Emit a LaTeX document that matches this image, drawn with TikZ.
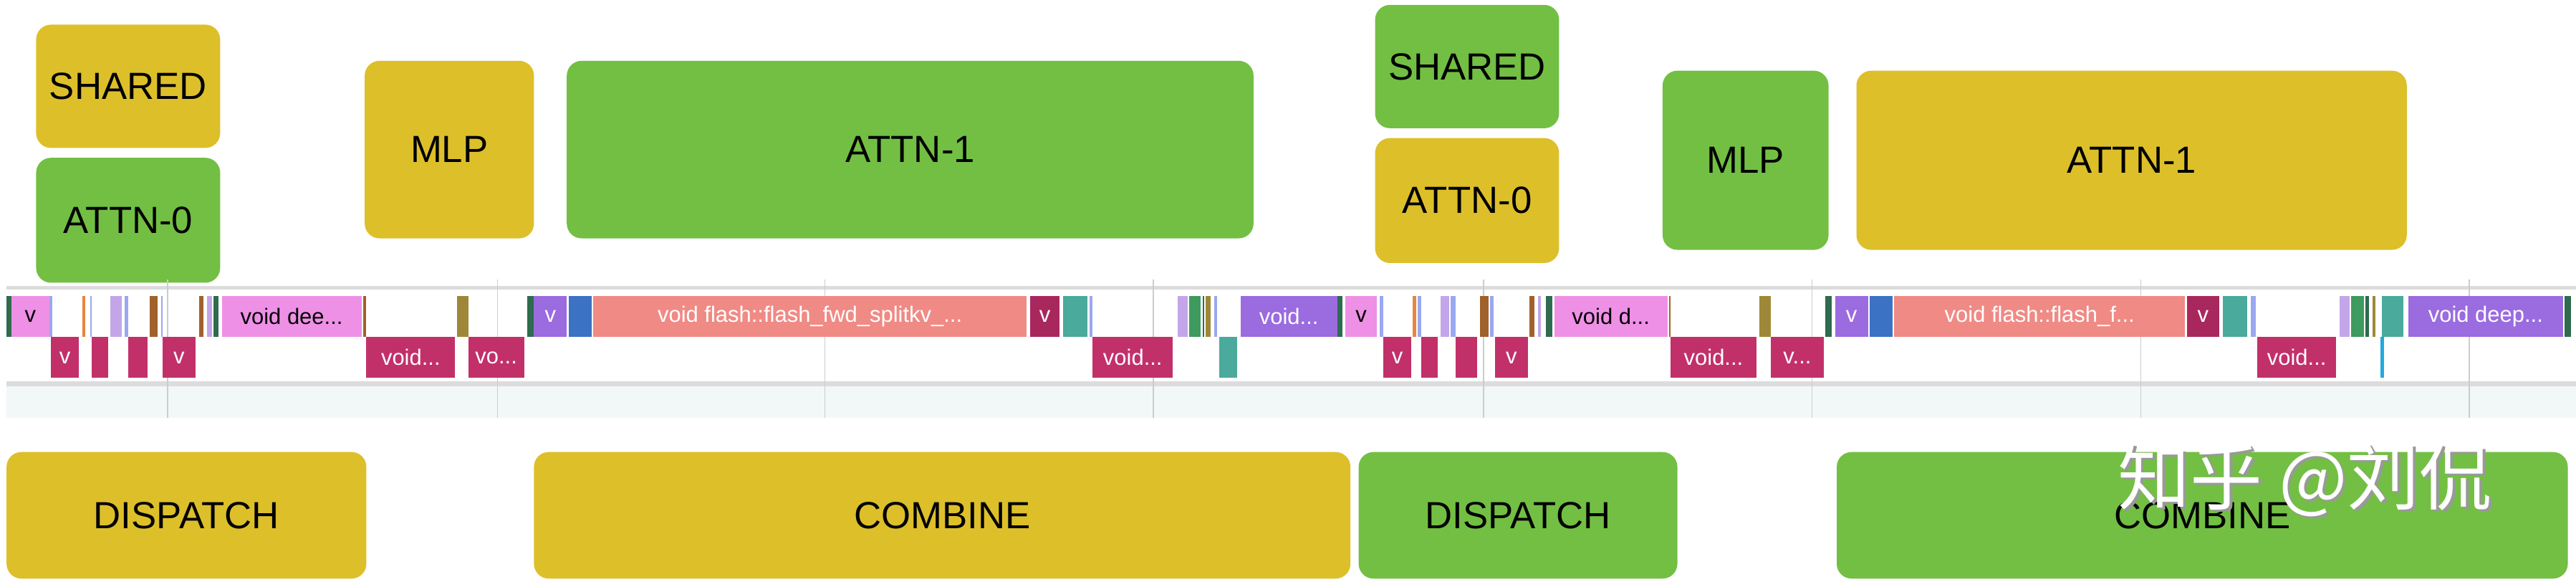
\documentclass[tikz,border=0pt]{standalone}
\usepackage{fontspec}
\setmainfont{Liberation Sans}
\newfontfamily\cjk{Noto Sans CJK SC}
\definecolor{yel}{HTML}{DDBF2A}
\definecolor{grn}{HTML}{72BF44}
\definecolor{cpink}{HTML}{EE90E6}
\definecolor{cpurp}{HTML}{9B6BE0}
\definecolor{csal}{HTML}{EF8A85}
\definecolor{cmag}{HTML}{C2306A}
\definecolor{cdmag}{HTML}{A8285E}
\definecolor{cteal}{HTML}{4AAA9C}
\definecolor{cblue}{HTML}{3B72C4}
\definecolor{clblue}{HTML}{9AA8F0}
\definecolor{clav}{HTML}{C3A6EA}
\definecolor{cbrown}{HTML}{A0612A}
\definecolor{coliv}{HTML}{9E8838}
\definecolor{cdgrn}{HTML}{2E6B4F}
\definecolor{corng}{HTML}{E8853A}
\definecolor{cgrn2}{HTML}{3E9A5E}
\definecolor{cband}{HTML}{F2F8F8}
\definecolor{cline}{HTML}{DCDCDC}
\newcommand\tbar[6]{\fill[#4] (#1,#3) rectangle (#2,#3+25);
  \node[font=\fontsize{13.5}{13.5}\selectfont,text=#6,inner sep=0pt] at ({(#1+#2)/2},#3+12.5) {#5};}
\newcommand\tw[4]{\tbar{#1}{#2}{180}{#3}{#4}{white}}
\newcommand\tk[4]{\tbar{#1}{#2}{180}{#3}{#4}{black}}
\newcommand\tl[3]{\tbar{#1}{#2}{205}{cmag}{#3}{white}}
\newcommand\bx[7]{\node[rounded corners=9pt,inner sep=0pt,fill=#5,minimum width=#3-#1,minimum height=#4-#2,font=\fontsize{23}{23}\selectfont] (#6) at ({(#1+#3)/2},{(#2+#4)/2}) {#7};}
\begin{document}
\begin{tikzpicture}[x=1pt,y=-1pt]
\useasboundingbox (0,0) rectangle (1568,357);
\fill[white] (0,0) rectangle (1568,357);
% boxes
\bx{22}{15}{134}{90}{yel}{sh1}{SHARED}
\bx{22}{96}{134}{172}{grn}{at1}{ATTN-0}
\bx{222}{37}{325}{145}{yel}{mlp1}{MLP}
\bx{345}{37}{763}{145}{grn}{a11}{ATTN-1}
\bx{837}{3}{949}{78}{grn}{sh2}{SHARED}
\bx{837}{84}{949}{160}{yel}{at2}{ATTN-0}
\bx{1012}{43}{1113}{152}{grn}{mlp2}{MLP}
\bx{1130}{43}{1465}{152}{yel}{a12}{ATTN-1}
\bx{4}{275}{223}{352}{yel}{d1}{DISPATCH}
\bx{325}{275}{822}{352}{yel}{c1}{COMBINE}
\bx{827}{275}{1021}{352}{grn}{d2}{DISPATCH}
\bx{1118}{275}{1563}{352}{grn}{c2}{COMBINE}
% trace background
\fill[cband] (4,235) rectangle (1568,254);
\fill[cline] (4,174) rectangle (1568,176);
\fill[cline] (4,232) rectangle (1568,235);
\foreach \g in {102,303,502,702,903,1103,1303,1503} \draw[black!20,line width=0.5pt] (\g,170) -- (\g,254);
% top row
\tw{4}{7}{cdgrn}{}
\tk{7}{30}{cpink}{v}
\tw{30}{32}{clblue}{}
\tw{50}{52}{corng}{}
\tw{55}{56}{clblue}{}
\tw{67}{74}{clav}{}
\tw{76}{78}{clblue}{}
\tw{91}{96}{cbrown}{}
\tw{98}{99}{clblue}{}
\tw{121}{124}{cbrown}{}
\tw{126}{129}{clav}{}
\tw{130}{133}{cdgrn}{}
\tk{135}{220}{cpink}{void dee...}
\tw{221}{223}{cbrown}{}
\tw{278}{285}{coliv}{}
\tw{321}{325}{cdgrn}{}
\tw{325}{345}{cpurp}{v}
\tw{346}{360}{cblue}{}
\tw{361}{625}{csal}{void flash::flash\_fwd\_splitkv\_...}
\tw{627}{645}{cdmag}{v}
\tw{647}{662}{cteal}{}
\tw{663}{665}{clblue}{}
\tw{717}{723}{clav}{}
\tw{724}{731}{cgrn2}{}
\tw{732}{733}{cdgrn}{}
\tw{734}{737}{coliv}{}
\tw{739}{741}{clblue}{}
\tw{755}{814}{cpurp}{void...}
\tw{814}{817}{cdgrn}{}
\tk{819}{838}{cpink}{v}
\tw{840}{842}{clblue}{}
\tw{860}{862}{corng}{}
\tw{863}{865}{clblue}{}
\tw{877}{882}{clav}{}
\tw{883}{886}{clblue}{}
\tw{901}{906}{cbrown}{}
\tw{907}{909}{clblue}{}
\tw{931}{934}{cbrown}{}
\tw{936}{938}{clav}{}
\tw{941}{945}{cdgrn}{}
\tk{946}{1015}{cpink}{void d...}
\tw{1016}{1017}{cbrown}{}
\tw{1071}{1078}{coliv}{}
\tw{1111}{1115}{cdgrn}{}
\tw{1117}{1137}{cpurp}{v}
\tw{1138}{1152}{cblue}{}
\tw{1153}{1330}{csal}{void flash::flash\_f...}
\tw{1331}{1351}{cdmag}{v}
\tw{1353}{1368}{cteal}{}
\tw{1370}{1373}{clblue}{}
\tw{1424}{1430}{clav}{}
\tw{1431}{1439}{cgrn2}{}
\tw{1440}{1442}{cdgrn}{}
\tw{1444}{1446}{coliv}{}
\tw{1450}{1463}{cteal}{}
\tw{1466}{1560}{cpurp}{void deep...}
\tw{1561}{1565}{cdgrn}{}
% bottom row
\tl{31}{48}{v}
\tl{56}{66}{}
\tl{78}{90}{}
\tl{99}{119}{v}
\tl{223}{277}{void...}
\tl{285}{319}{vo...}
\tl{665}{714}{void...}
\tbar{742}{753}{205}{cteal}{}{white}
\tl{842}{859}{v}
\tl{865}{875}{}
\tl{886}{899}{}
\tl{910}{930}{v}
\tl{1017}{1069}{void...}
\tl{1078}{1110}{v...}
\tl{1374}{1422}{void...}
\fill[cblue!60!cyan] (1449,205) rectangle (1451,230);
% watermark
\node[text=black!40,font=\cjk\fontsize{44}{44}\selectfont] (wms) at (1404.5,293.5) {知乎 @刘侃};
\node[text=white,font=\cjk\fontsize{44}{44}\selectfont] (wm) at (1403,292) {知乎 @刘侃};
\end{tikzpicture}
\end{document}
